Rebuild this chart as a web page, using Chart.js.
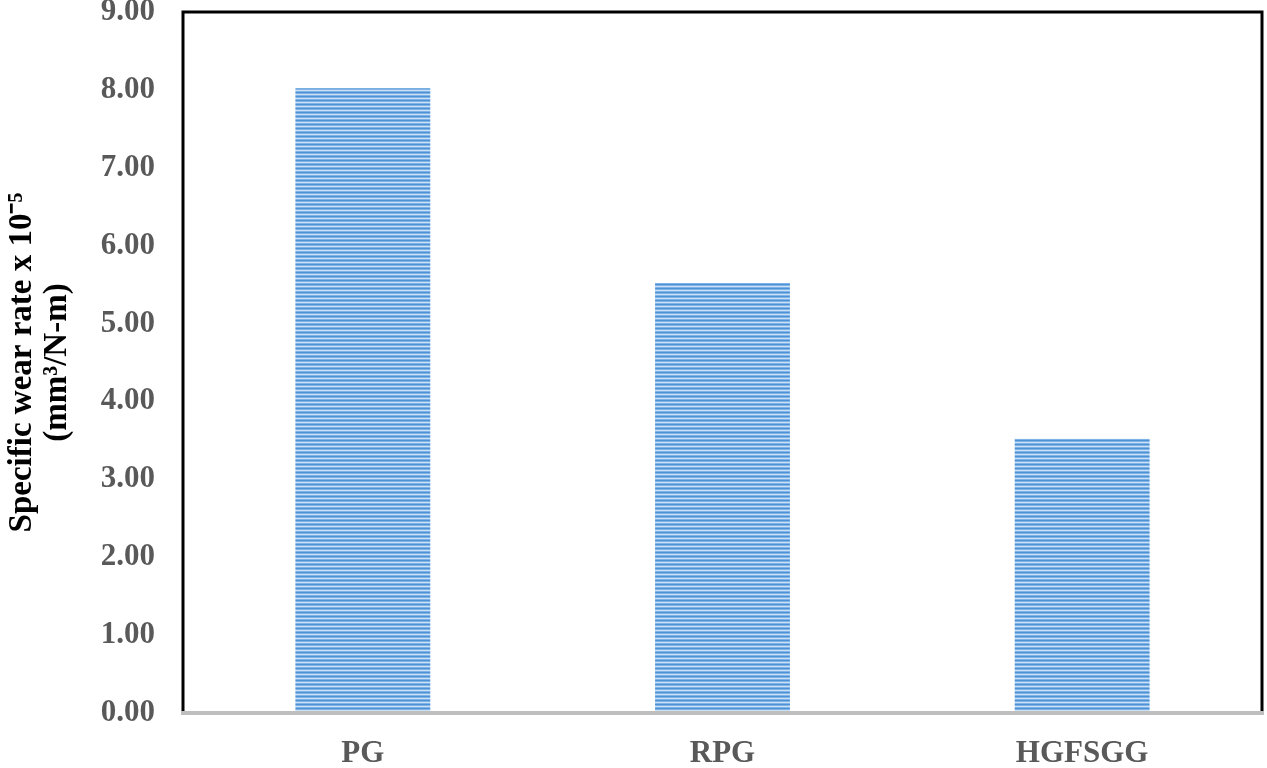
<!DOCTYPE html>
<html>
<head>
<meta charset="utf-8">
<script src="https://cdn.jsdelivr.net/npm/chart.js@4.4.0/dist/chart.umd.min.js"></script>
<style>
  html, body { margin: 0; padding: 0; background: #ffffff; }
</style>
</head>
<body>
<canvas id="wearChart" width="1267" height="768"></canvas>
<script>
// data
const categories = ['PG', 'RPG', 'HGFSGG'];
const wearRates = [8.02, 5.52, 3.52];
const yMin = 0;
const yMax = 9;
const yStep = 1;
const yTitle = ['Specific wear rate x 10\u207B\u2075', '(mm\u00B3/N-m)'];

const serif = "'Liberation Serif', 'Times New Roman', serif";

// striped fill like the excel "horizontal lines" pattern
function stripePattern() {
    const c = document.createElement('canvas');
    c.width = 8;
    c.height = 4;
    const g = c.getContext('2d');
    const rows = ['#4e92d6', '#7fb2e6', '#cde1f5', '#7fb2e6'];
    rows.forEach((col, i) => {
        g.fillStyle = col;
        g.fillRect(0, i, 8, 1);
    });
    return g.createPattern(c, 'repeat');
}

// black frame on left, top, right; grey base line
const frame = {
    id: 'frame',
    afterDatasetsDraw(chart) {
        const { ctx, chartArea: a } = chart;
        ctx.save();
        ctx.strokeStyle = '#000000';
        ctx.lineWidth = 3;
        ctx.beginPath();
        ctx.moveTo(a.left, a.bottom);
        ctx.lineTo(a.left, a.top);
        ctx.lineTo(a.right, a.top);
        ctx.lineTo(a.right, a.bottom);
        ctx.stroke();
        ctx.strokeStyle = '#bfbfbf';
        ctx.lineWidth = 4;
        ctx.beginPath();
        ctx.moveTo(a.left - 2, a.bottom);
        ctx.lineTo(a.right + 2, a.bottom);
        ctx.stroke();
        ctx.restore();
    }
};

const ctx = document.getElementById('wearChart').getContext('2d');

let wearChart = new Chart(ctx, {
    type: 'bar',
    data: {
        labels: categories,
        datasets: [{
            data: wearRates,
            backgroundColor: stripePattern(),
            borderWidth: 0,
            categoryPercentage: 1,
            barPercentage: 0.375
        }]
    },
    options: {
        responsive: false,
        animation: false,
        layout: {
            padding: { top: 12, right: 5, left: 0, bottom: 0 }
        },
        plugins: {
            legend: { display: false },
            tooltip: { enabled: false }
        },
        scales: {
            x: {
                grid: { display: false, drawTicks: false },
                border: { display: false },
                ticks: {
                    padding: 22,
                    color: '#595959',
                    font: { family: serif, size: 31, weight: 'bold' }
                },
                afterFit: (scale) => {
                    scale.height = 55;
                    scale.paddingLeft = 0;
                    scale.paddingRight = 0;
                }
            },
            y: {
                min: yMin,
                max: yMax,
                grid: { display: false, drawTicks: false },
                border: { display: false },
                ticks: {
                    stepSize: yStep,
                    padding: 28,
                    color: '#595959',
                    font: { family: serif, size: 31, weight: 'bold' },
                    callback: (v) => Number(v).toFixed(2)
                },
                title: {
                    display: true,
                    text: yTitle,
                    color: '#000000',
                    padding: { top: 5, bottom: 0 },
                    font: { family: serif, size: 33, weight: 'bold', lineHeight: 1.05 }
                },
                afterFit: (scale) => {
                    scale.width = 183;
                    scale.paddingTop = 0;
                    scale.paddingBottom = 0;
                }
            }
        }
    },
    plugins: [frame]
});
</script>
</body>
</html>
